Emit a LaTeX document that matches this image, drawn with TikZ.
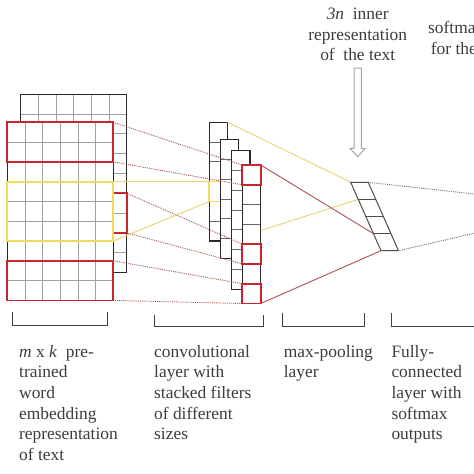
\documentclass[tikz,border=0pt]{standalone}
\usepackage{fontspec}
\setmainfont{Liberation Serif}
\usetikzlibrary{calc}
\definecolor{gridgray}{RGB}{160,160,160}
\definecolor{edge}{RGB}{40,40,40}
\definecolor{boxred}{RGB}{200,38,44}
\definecolor{boxyellow}{RGB}{240,218,90}
\definecolor{linkred}{RGB}{170,80,80}
\definecolor{linkyellow}{RGB}{232,214,120}
\definecolor{linkgray}{RGB}{110,110,110}
\definecolor{txt}{RGB}{60,60,60}
\definecolor{arrowgray}{RGB}{165,165,165}
\newcommand\wordmat[2]{%
  \fill[white] (#1,#2) rectangle ++(106,178.1);
  \foreach \i in {1,...,5} \draw[gridline] ({#1+\i*17.667},#2) -- ++(0,178.1);
  \foreach \j in {1,...,8} \draw[gridline] (#1,{#2+\j*19.79}) -- ++(106,0);
  \draw[outline] (#1,#2) rectangle ++(106,178.1);
}
\newcommand\filtcol[3]{%
  \fill[white] (#1,#2) rectangle ++(18.4,{#3*19.78});
  \pgfmathtruncatemacro\lastk{#3-1}
  \foreach \k in {1,...,\lastk} \draw[filtline] (#1,{#2+\k*19.78}) -- ++(18.4,0);
  \draw[outline] (#1,#2) rectangle ++(18.4,{#3*19.78});
}
\begin{document}
\begin{tikzpicture}[x=1pt,y=-1pt,
  gridline/.style={draw=gridgray,line width=0.9pt},
  filtline/.style={draw=black!60,line width=0.9pt},
  outline/.style={draw=edge,line width=1.3pt},
  redbox/.style={draw=boxred,line width=1.7pt},
  yelbox/.style={draw=boxyellow,line width=1.7pt},
  redlink/.style={draw=linkred,line width=0.9pt,densely dotted},
  redlinkb/.style={draw=linkred,line width=0.9pt},
  yellink/.style={draw=linkyellow,line width=1pt},
  graylink/.style={draw=linkgray,line width=0.9pt,densely dotted},
  poolline/.style={draw=black!70,line width=1pt},
  bracket/.style={draw=black!75,line width=1pt},
  hollowarrow/.style={draw=arrowgray,line width=1pt,fill=white},
  label/.style={inner sep=0pt,text=txt,font=\fontsize{17.4}{20.7}\selectfont}]
\useasboundingbox (0,0) rectangle (474,474);
\clip (0,0) rectangle (474,474);

% back embedding matrix
\wordmat{20.7}{94.3}
\draw[redbox] (20.7,193.25) rectangle (126.7,232.8);
% front embedding matrix
\wordmat{7.3}{122.3}
\draw[redbox] (7.3,122.3) rectangle (113.3,161.9);
\draw[yelbox] (7.3,181.7) rectangle (113.3,241.0);
\draw[redbox] (7.3,260.8) rectangle (113.3,300.4);

% stacked filters
\filtcol{209.3}{122.3}{6}
\draw[yelbox] (209.3,181.6) rectangle ++(18.4,19.78);
\filtcol{220.3}{139.7}{6}
\filtcol{231.7}{150.7}{7}
\filtcol{242.3}{165}{7}
\draw[redbox] (242.3,165) rectangle ++(18.4,19.78);
\draw[redbox] (242.3,244.1) rectangle ++(18.4,19.78);
\draw[redbox] (242.3,283.7) rectangle ++(18.4,19.78);

% links matrix -> filters
\draw[redlink] (113.3,122.3) -- (242.3,165);
\draw[redlink] (113.3,161.9) -- (242.3,184.8);
\draw[redlink] (126.7,193.25) -- (242.3,244.1);
\draw[redlink] (126.7,232.8) -- (242.3,263.9);
\draw[redlink] (113.3,260.8) -- (242.3,283.7);
\draw[redlink] (113.3,300.4) -- (242.3,303.5);
\draw[yellink] (113.3,181.7) -- (209.3,181.6);
\draw[yellink] (113.3,241.0) -- (209.3,201.4);

% max pooling
\coordinate (P1) at (350.7,182.3);
\coordinate (P2) at (368.2,182.3);
\coordinate (P3) at (381,250.7);
\coordinate (P4) at (398.5,250.7);
\draw[yellink] (227.7,122.3) -- (P1);
\draw[yellink] (260.7,230.5) -- ($(P1)!0.25!(P3)$);
\draw[redlinkb] (260.7,165) -- ($(P1)!0.75!(P3)$);
\draw[redlinkb] (260.7,303.5) -- (P3);
\draw[graylink] (P2) -- (476,194.2);
\draw[graylink] (P4) -- (476,232.8);
\draw[poolline] (P1) -- (P2) -- (P4) -- (P3) -- cycle;
\foreach \t in {0.25,0.5,0.75}
  \draw[poolline] ($(P1)!\t!(P3)$) -- ($(P2)!\t!(P4)$);

% hollow arrow
\draw[hollowarrow] (354,68) -- (354,148.3) -- (350,148.3) -- (357.7,156.7)
  -- (365.3,148.3) -- (361.3,148.3) -- (361.3,68) -- cycle;

% brackets
\draw[bracket] (12.3,311.7) -- (12.3,325) -- (107.7,325) -- (107.7,311.7);
\draw[bracket] (154,315) -- (154,326.7) -- (263,326.7) -- (263,315);
\draw[bracket] (282,313.3) -- (282,326.7) -- (364.7,326.7) -- (364.7,313.3);
\draw[bracket] (391.3,313.3) -- (391.3,326.7) -- (480,326.7);

% labels
\node[label,anchor=base] (inner) at (357.7,19.3)
  {\begin{tabular}[t]{@{}c@{}}\textit{3n}\ \ inner\\representation\\of\ \ the text\end{tabular}};
\node[label,anchor=base west] (soft) at (428,33.3)
  {\begin{tabular}[t]{@{}l@{}}softmax\\\hspace{2.7pt}for the\end{tabular}};
\node[label,anchor=base west] (lab1) at (19,357)
  {\begin{tabular}[t]{@{}l@{}}\textit{m} x \textit{k}\ \ pre-\\trained\\word\\embedding\\representation\\of text\end{tabular}};
\node[label,anchor=base west] (lab2) at (154,357)
  {\begin{tabular}[t]{@{}l@{}}convolutional\\layer with\\stacked filters\\of different\\sizes\end{tabular}};
\node[label,anchor=base west] (lab3) at (283.7,357)
  {\begin{tabular}[t]{@{}l@{}}max-pooling\\layer\end{tabular}};
\node[label,anchor=base west] (lab4) at (391.3,357)
  {\begin{tabular}[t]{@{}l@{}}Fully-\\connected\\layer with\\softmax\\outputs\end{tabular}};
\end{tikzpicture}
\end{document}
